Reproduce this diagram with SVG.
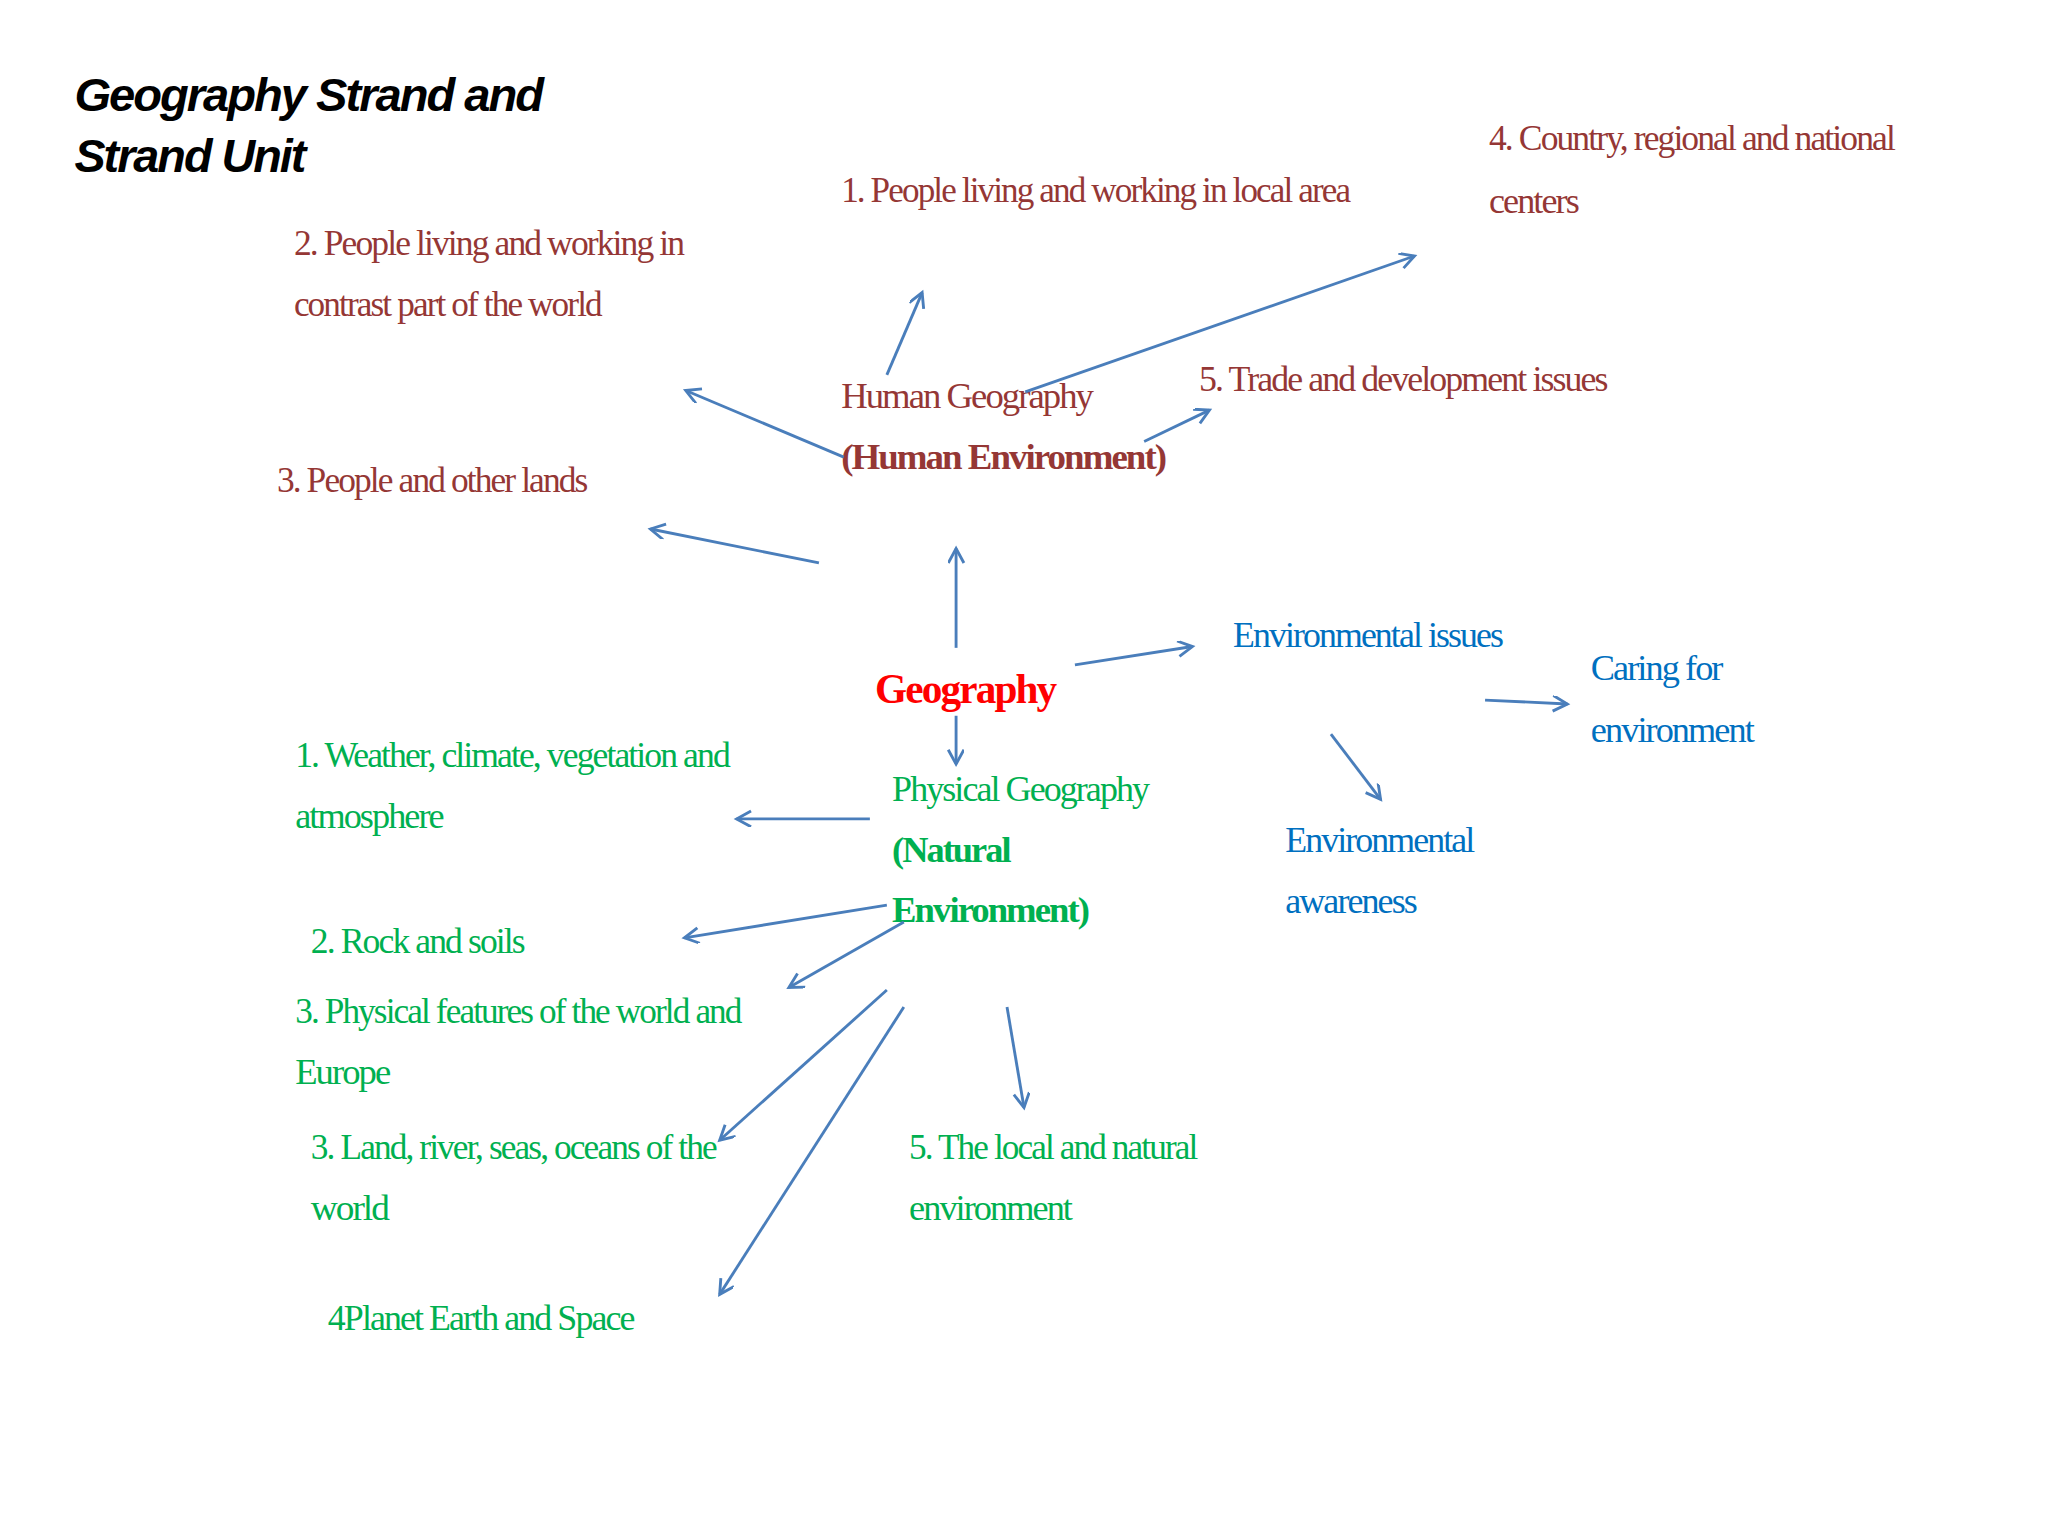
<svg xmlns="http://www.w3.org/2000/svg" width="2048" height="1536" viewBox="0 0 2048 1536">
<style>
.t{font-family:"Liberation Serif","Times New Roman",serif;font-size:28px;letter-spacing:-1.5px}
.r{fill:#953735}.g{fill:#00b050}.b{fill:#0070c0}.bd{font-weight:bold}
.title{font-family:"Liberation Sans",Arial,sans-serif;font-size:35px;font-weight:bold;font-style:italic;fill:#000;letter-spacing:-1.5px}
.c line{stroke:#4a7ebb;stroke-width:2.2;marker-end:url(#ah)}
</style>
<defs><marker id="ah" markerWidth="16" markerHeight="16" refX="12" refY="6" orient="auto" markerUnits="userSpaceOnUse"><path d="M1,0 L12,6 L1,12" fill="none" stroke="#4a7ebb" stroke-width="2.2"/></marker></defs>
<rect width="2048" height="1536" fill="#fff"/>
<g transform="scale(1.30612)">
<g id="title"><text class="title" x="57" y="85" textLength="358" lengthAdjust="spacingAndGlyphs">Geography Strand and</text><text class="title" x="57" y="132" textLength="176" lengthAdjust="spacingAndGlyphs">Strand Unit</text></g>
<g id="h1"><text class="t r" x="644" y="155" textLength="389" lengthAdjust="spacingAndGlyphs">1. People living and working in local area</text></g>
<g id="h4"><text class="t r" x="1140" y="115" textLength="310" lengthAdjust="spacingAndGlyphs">4. Country, regional and national</text><text class="t r" x="1140" y="163" textLength="68" lengthAdjust="spacingAndGlyphs">centers</text></g>
<g id="h2"><text class="t r" x="225" y="195" textLength="298" lengthAdjust="spacingAndGlyphs">2. People living and working in</text><text class="t r" x="225" y="242" textLength="235" lengthAdjust="spacingAndGlyphs">contrast part of the world</text></g>
<g id="human"><text class="t r" x="644" y="312" textLength="192" lengthAdjust="spacingAndGlyphs">Human Geography</text><text class="t r bd" x="644" y="359" textLength="248" lengthAdjust="spacingAndGlyphs">(Human Environment)</text></g>
<g id="h5"><text class="t r" x="918" y="299" textLength="312" lengthAdjust="spacingAndGlyphs">5. Trade and development issues</text></g>
<g id="h3"><text class="t r" x="212" y="377" textLength="237" lengthAdjust="spacingAndGlyphs">3. People and other lands</text></g>
<g id="geo"><text class="t bd" x="670" y="538" style="font-size:33px;fill:#ff0000" textLength="138" lengthAdjust="spacingAndGlyphs">Geography</text></g>
<g id="envi"><text class="t b" x="944" y="495" textLength="206" lengthAdjust="spacingAndGlyphs">Environmental issues</text></g>
<g id="care"><text class="t b" x="1218" y="521" textLength="100" lengthAdjust="spacingAndGlyphs">Caring for</text><text class="t b" x="1218" y="568" textLength="124" lengthAdjust="spacingAndGlyphs">environment</text></g>
<g id="aware"><text class="t b" x="984" y="652" textLength="144" lengthAdjust="spacingAndGlyphs">Environmental</text><text class="t b" x="984" y="699" textLength="100" lengthAdjust="spacingAndGlyphs">awareness</text></g>
<g id="p1"><text class="t g" x="226" y="587" textLength="332" lengthAdjust="spacingAndGlyphs">1. Weather, climate, vegetation and</text><text class="t g" x="226" y="634" textLength="113" lengthAdjust="spacingAndGlyphs">atmosphere</text></g>
<g id="phys"><text class="t g" x="683" y="613" textLength="196" lengthAdjust="spacingAndGlyphs">Physical Geography</text><text class="t g bd" x="683" y="660" textLength="90" lengthAdjust="spacingAndGlyphs">(Natural</text><text class="t g bd" x="683" y="706" textLength="150" lengthAdjust="spacingAndGlyphs">Environment)</text></g>
<g id="p2"><text class="t g" x="238" y="730" textLength="163" lengthAdjust="spacingAndGlyphs">2. Rock and soils</text></g>
<g id="p3"><text class="t g" x="226" y="783" textLength="341" lengthAdjust="spacingAndGlyphs">3. Physical features of the world and</text><text class="t g" x="226" y="830" textLength="72" lengthAdjust="spacingAndGlyphs">Europe</text></g>
<g id="p3b"><text class="t g" x="238" y="887" textLength="310" lengthAdjust="spacingAndGlyphs">3. Land, river, seas, oceans of the</text><text class="t g" x="238" y="934" textLength="59" lengthAdjust="spacingAndGlyphs">world</text></g>
<g id="p5"><text class="t g" x="696" y="887" textLength="220" lengthAdjust="spacingAndGlyphs">5. The local and natural</text><text class="t g" x="696" y="934" textLength="124" lengthAdjust="spacingAndGlyphs">environment</text></g>
<g id="p4"><text class="t g" x="251" y="1018" textLength="234" lengthAdjust="spacingAndGlyphs">4Planet Earth and Space</text></g>
<g class="c" id="connectors">
<line x1="679" y1="287" x2="706" y2="224"/>
<line x1="785" y1="300" x2="1083" y2="196"/>
<line x1="646" y1="350" x2="525" y2="299"/>
<line x1="876" y1="338" x2="926" y2="314"/>
<line x1="627" y1="431" x2="498" y2="405"/>
<line x1="732" y1="496" x2="732" y2="420"/>
<line x1="823" y1="509" x2="913" y2="495"/>
<line x1="1137" y1="536" x2="1200" y2="539"/>
<line x1="1019" y1="562" x2="1057" y2="612"/>
<line x1="732" y1="548" x2="732" y2="585"/>
<line x1="666" y1="627" x2="564" y2="627"/>
<line x1="679" y1="693" x2="524" y2="718"/>
<line x1="692" y1="706" x2="604" y2="756"/>
<line x1="679" y1="758" x2="551" y2="873"/>
<line x1="692" y1="771" x2="551" y2="991"/>
<line x1="771" y1="771" x2="784" y2="848"/>
</g>
</g>
</svg>
